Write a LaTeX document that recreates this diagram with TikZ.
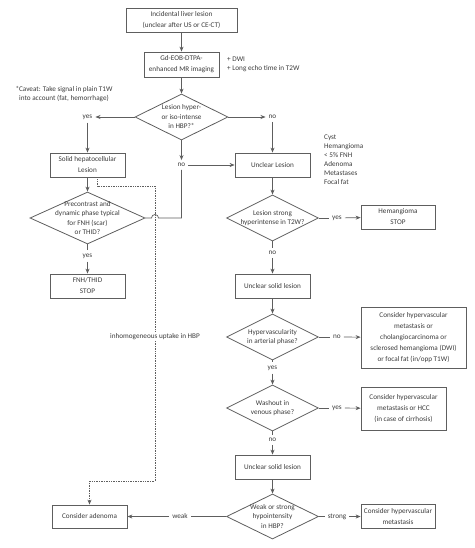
\documentclass[tikz,border=0pt]{standalone}
\usepackage{fontspec}
\setmainfont{Carlito}
\usepackage{xcolor}
\usepackage{tikz}
\usetikzlibrary{arrows.meta, positioning, shapes}

\definecolor{ink}{HTML}{3C3C3C}
\definecolor{edge}{HTML}{5E5E5E}

\begin{document}
\begin{tikzpicture}[x=1pt, y=-1pt,
  box/.style={draw=edge, line width=0.8pt, text=ink, align=center, minimum width=75pt, minimum height=24pt, inner sep=1pt, font=\fontsize{7.2}{11}\selectfont},
  dec/.style={draw=edge, line width=0.8pt, diamond, inner sep=0pt, minimum width=92pt, minimum height=46pt},
  dtxt/.style={text=ink, align=center, inner sep=0pt, font=\fontsize{7.2}{9.5}\selectfont},
  lab/.style={text=ink, inner sep=3pt, font=\fontsize{7.2}{9}\selectfont},
  line/.style={draw=edge, line width=0.7pt},
  arr/.style={line, -{Stealth[length=5pt,width=4pt]}}]
\useasboundingbox (0,0) rectangle (474,548);

\node[box, minimum width=111pt] (inc) at (181.5,20) {Incidental liver lesion\\(unclear after US or CE-CT)};
\node[box, minimum height=25pt] (mri) at (181.5,64.5) {Gd-EOB-DTPA-\\enhanced MR imaging};
\node[lab, anchor=west, align=left] (extra) at (224,64.5) {+ DWI\\+ Long echo time in T2W};
\node[lab, align=center] (caveat) at (64,94) {*Caveat: Take signal in plain T1W\\into account (fat, hemorrhage)};

\node[dec, minimum width=93pt, label={[dtxt]center:{Lesion hyper-\\or iso-intense\\in HBP?*}}] (q1) at (181.5,117) {};
\node[lab] (q1yes) at (87.5,117) {yes};
\node[lab] (q1no) at (272.5,117) {no};
\node[lab] (q1down) at (181.5,165) {no};

\node[box] (solid) at (87.5,165) {Solid hepatocellular\\Lesion};
\node[box] (unclear) at (272.5,165) {Unclear Lesion};
\node[lab, anchor=west, align=left] (list) at (321,159.5) {Cyst\\Hemangioma\\< 5\% FNH\\Adenoma\\Metastases\\Focal fat};

% left branch
\node[dec, minimum width=115pt, minimum height=52pt, label={[dtxt]center:{Precontrast and\\dynamic phase typical\\for FNH (scar)\\or THID?}}] (q2) at (87.5,218) {};
\node[lab] (q2yes) at (87.5,256) {yes};
\node[box] (fnh) at (87.5,286) {FNH/THID\\STOP};
\node[box, minimum height=23pt] (adenoma) at (89.5,516.5) {Consider adenoma};

% right branch
\node[dec, label={[dtxt]center:{Lesion strong\\hyperintense in T2W?}}] (q3) at (272.5,218) {};
\node[lab] (q3yes) at (337,218) {yes};
\node[box, minimum width=74pt] (hem) at (398,217) {Hemangioma\\STOP};
\node[lab] (q3no) at (272.5,253) {no};
\node[box] (solid1) at (272.5,286) {Unclear solid lesion};

\node[dec, label={[dtxt]center:{Hypervascularity\\in arterial phase?}}] (q4) at (272.5,337) {};
\node[lab] (q4no) at (337,337) {no};
\node[box, minimum width=105pt, minimum height=61pt] (hyper) at (413.5,337.5) {Consider hypervascular\\metastasis or\\cholangiocarcinoma or\\sclerosed hemangioma (DWI)\\or focal fat (in/opp T1W)};
\node[lab] (q4yes) at (272.5,368) {yes};

\node[dec, label={[dtxt]center:{Washout in\\venous phase?}}] (q5) at (272.5,408) {};
\node[lab] (q5yes) at (337,408) {yes};
\node[box, minimum width=85pt, minimum height=43pt] (hcc) at (403.5,408.5) {Consider hypervascular\\metastasis or HCC\\(in case of cirrhosis)};
\node[lab] (q5no) at (272.5,440) {no};
\node[box] (solid2) at (272.5,467) {Unclear solid lesion};

\node[dec, minimum height=45pt, label={[dtxt]center:{Weak or strong\\hypointensity\\in HBP?}}] (q6) at (272.5,516.5) {};
\node[lab] (q6weak) at (180,516.5) {weak};
\node[lab] (q6strong) at (337,516.5) {strong};
\node[box, minimum width=74pt] (meta) at (398,516.5) {Consider hypervascular\\metastasis};

% connectors
\draw[arr] (inc) -- (mri);
\draw[arr] (mri) -- (q1);
\draw[arr] (q1.west) -- (q1yes);
\draw[arr] (q1yes) -- (solid);
\draw[arr] (q1.east) -- (q1no);
\draw[arr] (q1no) -- (unclear);
\draw[arr] (q1.south) -- (q1down);
\draw[arr] (q1down) -- (unclear);
\coordinate (hop) at (158.5,218);
\draw[line] (q1down.south) |- (hop) arc[start angle=0, end angle=-180, radius=3.5] -- (q2.east);

\draw[arr] (solid) -- (q2);
\draw[line] (q2.south) -- (q2yes);
\draw[arr] (q2yes) -- (fnh);

\coordinate (dB) at (155,186);
\coordinate (dC) at (155,481);
\draw[line, densely dotted, -{Stealth[length=5pt,width=4pt]}] ([xshift=10pt]solid.south) |- (dB) -- node[pos=0.51, fill=white, lab, inner sep=1pt] {inhomogeneous uptake in HBP} (dC) -| (adenoma.north);

\draw[arr] (unclear) -- (q3);
\draw[line] (q3.east) -- (q3yes);
\draw[arr] (q3yes) -- (hem);
\draw[line] (q3.south) -- (q3no);
\draw[arr] (q3no) -- (solid1);
\draw[arr] (solid1) -- (q4);
\draw[line] (q4.east) -- (q4no);
\draw[arr] (q4no) -- (hyper);
\draw[line] (q4.south) -- (q4yes);
\draw[arr] (q4yes) -- (q5);
\draw[line] (q5.east) -- (q5yes);
\draw[arr] (q5yes) -- (hcc);
\draw[line] (q5.south) -- (q5no);
\draw[arr] (q5no) -- (solid2);
\draw[arr] (solid2) -- (q6);
\draw[line] (q6.west) -- (q6weak);
\draw[arr] (q6weak) -- (adenoma);
\draw[line] (q6.east) -- (q6strong);
\draw[arr] (q6strong) -- (meta);
\end{tikzpicture}
\end{document}
